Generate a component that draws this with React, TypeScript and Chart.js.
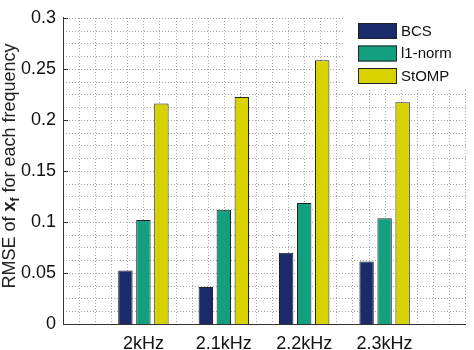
import React, { useEffect, useRef } from "react";
import { Chart, registerables } from "chart.js";

Chart.register(...registerables);

const categories = ["2kHz", "2.1kHz", "2.2kHz", "2.3kHz"];
const seriesNames = ["BCS", "l1-norm", "StOMP"];
const bcs = [0.0525, 0.0362, 0.0698, 0.0613];
const l1norm = [0.1019, 0.112, 0.1186, 0.1035];
const stomp = [0.216, 0.2223, 0.2585, 0.2173];
const yTicks = [0, 0.05, 0.1, 0.15, 0.2, 0.25, 0.3];
const colors = ["#1b2a6b", "#13a07e", "#d8d200"];
const X_MAX = 5;
const X_MINOR = 0.2;
const Y_MAX = 0.3;
const Y_MINOR = 0.0125;

const FONT = "'Liberation Sans', Arial, Helvetica, sans-serif";

const gridPlugin = {
  id: "dottedGrid",
  beforeDatasetsDraw(chart: any) {
    const ctx = chart.ctx as CanvasRenderingContext2D;
    const area = chart.chartArea;
    const xs = chart.scales.x;
    const ys = chart.scales.y;
    ctx.save();
    ctx.fillStyle = "#a8a8a8";
    const nx = Math.round(X_MAX / X_MINOR);
    for (let i = 1; i <= nx; i++) {
      const px = Math.round(xs.getPixelForValue(i * X_MINOR));
      for (let py = Math.round(area.bottom) - 3; py >= area.top; py -= 3) {
        ctx.fillRect(px, py, 1, 1);
      }
    }
    const ny = Math.round(Y_MAX / Y_MINOR);
    for (let i = 1; i <= ny; i++) {
      const py = Math.round(ys.getPixelForValue(i * Y_MINOR));
      for (let px = Math.round(area.left) + 3; px <= area.right; px += 3) {
        ctx.fillRect(px, py, 1, 1);
      }
    }
    ctx.restore();
  },
};

const overlayPlugin = {
  id: "overlay",
  afterDraw(chart: any) {
    const ctx = chart.ctx as CanvasRenderingContext2D;
    const area = chart.chartArea;
    const y = chart.scales.y;
    ctx.save();
    // inward y ticks
    ctx.strokeStyle = "#333";
    ctx.lineWidth = 1;
    yTicks.forEach((t) => {
      const py = Math.round(y.getPixelForValue(t)) + 0.5;
      ctx.beginPath();
      ctx.moveTo(area.left, py);
      ctx.lineTo(area.left + 5, py);
      ctx.stroke();
    });
    // legend
    const lx = 343, ly = 9, lw = 126, lh = 80;
    ctx.fillStyle = "#fff";
    ctx.fillRect(lx, ly, lw, lh);
    ctx.font = `15px ${FONT}`;
    ctx.textBaseline = "middle";
    seriesNames.forEach((name, i) => {
      const sy = 23 + i * 22.5;
      ctx.fillStyle = colors[i];
      ctx.fillRect(358, sy, 39, 16);
      ctx.strokeStyle = "#222";
      ctx.strokeRect(358.5, sy + 0.5, 38, 15);
      ctx.fillStyle = "#111";
      ctx.textAlign = "left";
      ctx.fillText(name, 401, sy + 8.5);
    });
    // y-axis title with bold x and subscript f
    ctx.translate(15, 166);
    ctx.rotate(-Math.PI / 2);
    ctx.fillStyle = "#222";
    ctx.textBaseline = "alphabetic";
    const p1 = "RMSE of ";
    const p2 = "x";
    const p3 = "f";
    const p4 = " for each frequency";
    const f18 = `18px ${FONT}`;
    const b18 = `bold 18px ${FONT}`;
    const b12 = `bold 12px ${FONT}`;
    ctx.font = f18;
    const w1 = ctx.measureText(p1).width;
    const w4 = ctx.measureText(p4).width;
    ctx.font = b18;
    const w2 = ctx.measureText(p2).width;
    ctx.font = b12;
    const w3 = ctx.measureText(p3).width;
    const total = w1 + w2 + w3 + w4;
    let x = -total / 2;
    ctx.textAlign = "left";
    ctx.font = f18;
    ctx.fillText(p1, x, 0);
    x += w1;
    ctx.font = b18;
    ctx.fillText(p2, x, 0);
    x += w2;
    ctx.font = b12;
    ctx.fillText(p3, x, 4);
    x += w3;
    ctx.font = f18;
    ctx.fillText(p4, x, 0);
    ctx.restore();
  },
};

export default function App() {
  const ref = useRef<HTMLCanvasElement>(null);
  useEffect(() => {
    document.body.style.margin = "0";
    const datasets = [bcs, l1norm, stomp].map((arr, i) => ({
      label: seriesNames[i],
      data: arr.map((v, j) => ({ x: j + 1, y: v })),
      backgroundColor: colors[i],
      borderColor: "#222",
      borderWidth: 1,
      categoryPercentage: 0.672,
      barPercentage: 0.8,
    }));
    const chart = new Chart(ref.current!, {
      type: "bar",
      data: { datasets },
      plugins: [gridPlugin, overlayPlugin],
      options: {
        animation: false,
        responsive: false,
        maintainAspectRatio: false,
        layout: { padding: { top: 6, right: 1, left: 0, bottom: 0 } },
        plugins: { legend: { display: false }, tooltip: { enabled: false } },
        scales: {
          x: {
            type: "linear",
            min: 0,
            max: X_MAX,
            offset: false,
            position: "bottom",
            grid: { display: false, drawTicks: false, offset: false },
            border: { display: true, color: "#333", width: 1 },
            ticks: {
              stepSize: 1,
              autoSkip: false,
              maxRotation: 0,
              padding: 9,
              color: "#111",
              font: { size: 18, family: FONT },
              callback: (v: any) => {
                const i = Math.round(Number(v));
                return Math.abs(Number(v) - i) < 1e-6 && i >= 1 && i <= categories.length ? categories[i - 1] : "";
              },
            },
            afterFit: (s: any) => { s.height = 26; },
          },
          y: {
            min: 0,
            max: Y_MAX,
            grid: { display: false, drawTicks: false },
            border: { display: true, color: "#333", width: 1 },
            afterBuildTicks: (s: any) => { s.ticks = yTicks.map((v) => ({ value: v })); },
            ticks: {
              autoSkip: false,
              padding: 7,
              color: "#111",
              font: { size: 18, family: FONT },
              callback: (v: any) => String(Math.round(Number(v) * 100) / 100),
            },
            afterFit: (s: any) => { s.width = 63; },
          },
        },
      } as any,
    });
    return () => chart.destroy();
  }, []);
  return (
    <div style={{ position: "absolute", left: 0, top: 0, width: 474, height: 350, background: "#fff" }}>
      <canvas ref={ref} width={474} height={350} style={{ width: 474, height: 350 }} />
    </div>
  );
}
